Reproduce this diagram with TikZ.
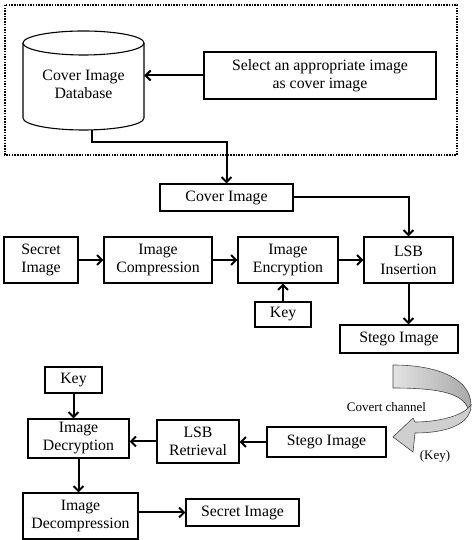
\documentclass[tikz,border=0pt]{standalone}
\usepackage{fontspec}
\setmainfont{Liberation Serif}
\usetikzlibrary{arrows.meta}

\begin{document}
\begin{tikzpicture}[x=1pt,y=1pt,
	every node/.style={font=\fontsize{15.8}{18}\selectfont, align=center, inner sep=1pt},
	blk/.style={draw, line width=1.1pt},
	arr/.style={line width=2pt, -{Straight Barb[length=5pt,width=10pt]}},
	band/.style={draw=gray!55!black, line width=0.6pt}]
	  \useasboundingbox (0,0) rectangle (474,540);

	  % cover image selection
	  \draw[line width=1.5pt, dash pattern=on 1.5pt off 1.2pt] (5,535) rectangle (457,385);
	  \draw[blk] (23,497) -- (23,422) arc[start angle=180, end angle=360, x radius=60.5, y radius=12] -- (144,497);
	  \draw[blk] (83.5,497) ellipse [x radius=60.5, y radius=12];
	  \node[minimum width=121pt, minimum height=92pt] (db) at (83.5,456) {Cover Image\\Database};
	  \node[blk, minimum width=232pt, minimum height=47pt] (sel) at (320,464.5) {Select an appropriate image\\as cover image};

	  % embedding
	  \node[blk, minimum width=133pt, minimum height=27pt] (cov) at (226.5,342.5) {Cover Image};
	  \node[blk, minimum width=74pt, minimum height=46pt] (sec) at (41,280) {Secret\\Image};
	  \node[blk, minimum width=108pt, minimum height=46pt] (comp) at (158,280) {Image\\Compression};
	  \node[blk, minimum width=100pt, minimum height=46pt] (enc) at (288,280) {Image\\Encryption};
	  \node[blk, minimum width=89pt, minimum height=46pt] (ins) at (408.5,280) {LSB\\Insertion};
	  \node[blk, minimum width=56pt, minimum height=25pt] (key) at (283,225.5) {Key};
	  \node[blk, minimum width=118pt, minimum height=28pt] (steg) at (399,201) {Stego Image};

	  % extraction
	  \node[blk, minimum width=57pt, minimum height=26pt] (key2) at (73.5,160) {Key};
	  \node[blk, minimum width=101pt, minimum height=39pt] (dec) at (78.5,101.5) {Image\\Decryption};
	  \node[blk, minimum width=82pt, minimum height=43pt] (ret) at (198,98.5) {LSB\\Retrieval};
	  \node[blk, minimum width=119pt, minimum height=30pt] (steg2) at (326.5,98) {Stego Image};
	  \node[blk, minimum width=115pt, minimum height=46pt] (decomp) at (80.5,24) {Image\\Decompression};
	  \node[blk, minimum width=113pt, minimum height=27pt] (sec2) at (242.5,27.5) {Secret Image};

	  \draw[arr] (sel.west) -- (sel.west -| db.east);
	  \draw[arr] ([xshift=8pt]db.south) -- ++(0,-12) -| (cov.north);
	  \draw[arr] (cov.east) -| (ins.north);
	  \foreach \a/\b in {sec/comp, comp/enc, enc/ins}{\draw[arr] (\a) -- (\b);}
	  \draw[arr] (key) -- (key |- enc.south);
	  \draw[arr] (ins) -- (ins |- steg.north);
	  \draw[arr] (key2) -- (key2 |- dec.north);
	  \draw[arr] (dec) -- (dec |- decomp.north);
	  \draw[arr] (ret.west) -- (ret.west -| dec.east);
	  \draw[arr] (steg2.west) -- (steg2.west -| ret.east);
	  \draw[arr] (sec2.west -| decomp.east) -- (sec2.west);

	  % covert channel
	  \draw[band, left color=gray!22, right color=gray!68]
	    (393,175) .. controls (440,175) and (471,160) .. (471,135)
	    -- (468,132) .. controls (462,145) and (445,152) .. (393,152) -- cycle;
	  \draw[band, fill=gray!38]
	    (468,132) -- (471,135) .. controls (471,115) and (445,107) .. (415,107)
	    -- (413,88) -- (393,103) -- (413,122) -- (415,118)
	    .. controls (440,118) and (462,125) .. (468,132) -- cycle;
	  \node[font=\fontsize{13}{15}\selectfont] (chan) at (386.5,133) {Covert channel};
	  \node[font=\fontsize{13}{15}\selectfont] (ckey) at (435,84) {(Key)};

	\end{tikzpicture}
\end{document}
